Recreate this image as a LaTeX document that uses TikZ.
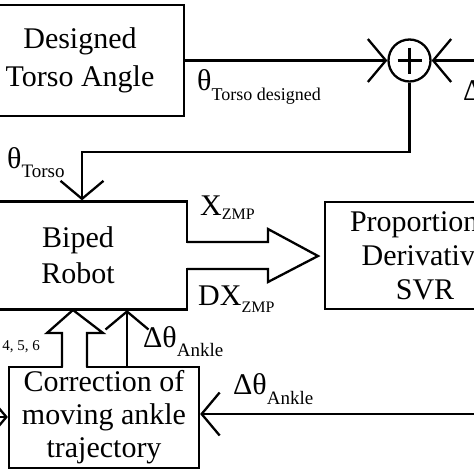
\documentclass[tikz,border=0pt]{standalone}
\usepackage{fontspec}
\setmainfont{Liberation Serif}
\usetikzlibrary{arrows.meta}
\newcommand{\lbl}[4]{{\fontsize{30}{30}\selectfont #1}\raisebox{-#3pt}{\fontsize{#4}{#4}\selectfont #2}}
\tikzset{
  boxnode/.style={draw, line width=2.3pt, align=center, inner sep=0pt},
  arr/.style={line width=2.3pt, -{Straight Barb[length=18pt,width=43pt]}},
  hollow/.style={draw, line width=2.3pt, fill=white, line join=miter},
  lab/.style={inner sep=0pt, anchor=base west}
}
\begin{document}
\begin{tikzpicture}[x=1pt,y=-1pt]
\useasboundingbox (0,0) rectangle (474,474);
\fill[white] (0,0) rectangle (474,474);
\clip (0,0) rectangle (474,474);
% boxes
\node[boxnode, minimum width=208pt, minimum height=111pt, font=\fontsize{30}{38}\selectfont] (des) at (80,60.5) {Designed\\Torso Angle};
\node[boxnode, minimum width=218pt, minimum height=108pt, font=\fontsize{30}{36}\selectfont] (bip) at (78,255.5) {Biped\\Robot};
\node[boxnode, minimum width=200pt, minimum height=107pt, font=\fontsize{30}{34}\selectfont] (pd) at (425,255.5) {Proportional\\Derivative\\SVR};
\node[boxnode, minimum width=190pt, minimum height=101pt, font=\fontsize{30}{33}\selectfont] (cor) at (104,417.5) {Correction of\\moving ankle\\trajectory};
\node[circle, draw, line width=2.3pt, minimum size=42pt, inner sep=0pt] (sum) at (409.5,60.5) {};
\draw[line width=2.3pt] (397.5,60.5) -- (421.5,60.5) (409.5,47.5) -- (409.5,73.5);
% free ends
\coordinate (rin) at (480,60.5);
\coordinate (rin2) at (480,414);
\coordinate (lin) at (-30,417);
\coordinate (c1) at (82,152);
% connectors
\draw[arr] (des.east |- sum) -- (sum.west);
\draw[arr] (rin) -- (sum.east);
\draw[arr] (sum.south) |- (c1) -- (c1 |- bip.north);
\draw[arr] (rin2) -- (rin2 -| cor.east);
\draw[arr] (lin) -- (lin -| cor.west);
\draw[arr] (127,367) -- (127,310);
% hollow arrow biped -> PD
\fill[white] (186,243.3) rectangle (189.5,267.7);
\draw[hollow] (187,242) -- (268,242) -- (268,229) -- (318,256) -- (268,282) -- (268,269) -- (187,269);
% hollow arrow correction -> biped
\fill[white] (63.3,365) rectangle (85.7,369.5);
\draw[hollow] (62,367) -- (62,333) -- (47,333) -- (73,310) -- (103,333) -- (87,333) -- (87,367);
% labels
\node[lab] (l1) at (197,90) {\lbl{θ}{Torso designed}{10}{18}};
\node[lab] (l2) at (7,168) {\lbl{θ}{Torso}{9}{19}};
\node[lab] (l3) at (200,215) {\lbl{X}{ZMP}{4}{16}};
\node[lab] (l4) at (198,305) {\lbl{DX}{ZMP}{7}{16}};
\node[lab] (l5) at (143,347) {\lbl{Δθ}{Ankle}{9}{19}};
\node[lab] (l6) at (233,394) {\lbl{Δθ}{Ankle}{10}{19}};
\node[lab] (l7) at (463,100) {\fontsize{30}{30}\selectfont Δ};
\node[inner sep=0pt, anchor=base east] (l8) at (40,350) {\fontsize{15}{15}\selectfont 4, 5, 6};
\end{tikzpicture}
\end{document}
